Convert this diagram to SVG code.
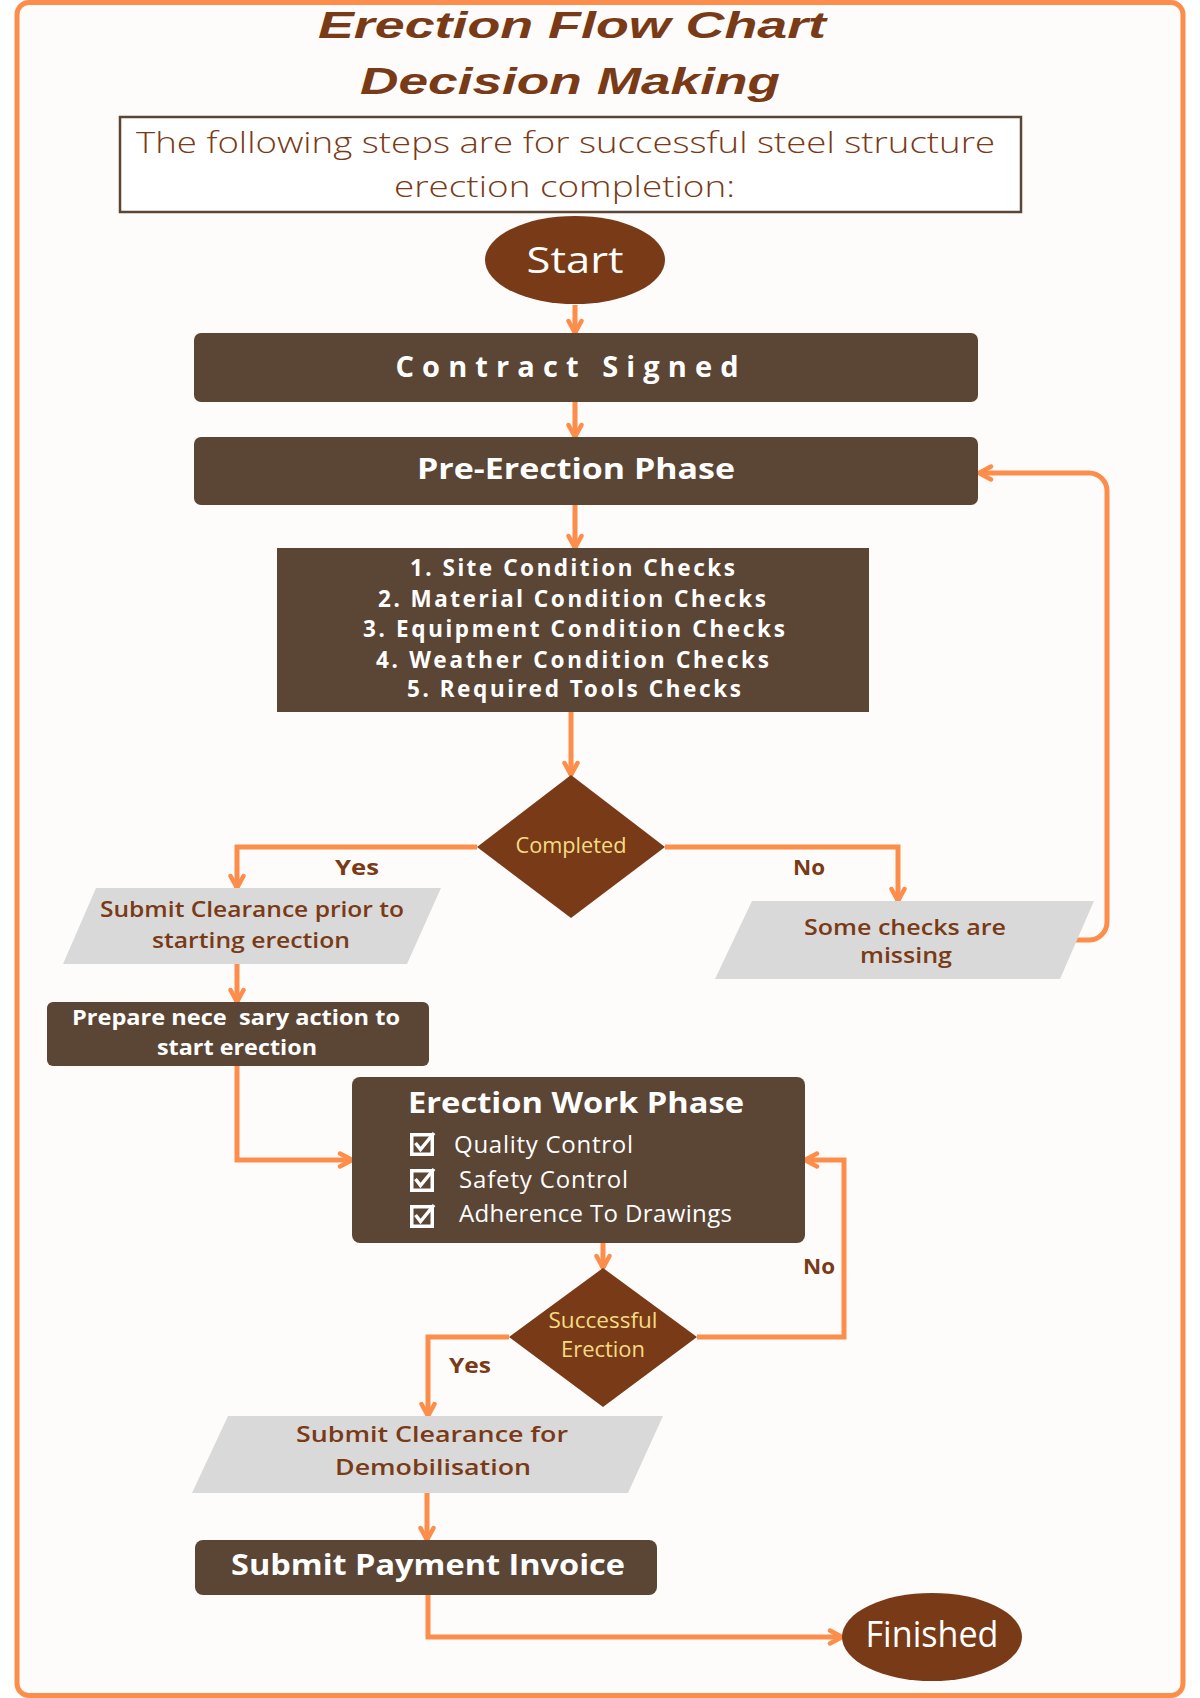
<svg xmlns="http://www.w3.org/2000/svg" width="1200" height="1698" viewBox="0 0 1200 1698">
  <defs>
    <style>
      .frame{fill:#fdfcfa;stroke:#fd8d4b;stroke-width:5}
      .box{fill:#5b4535}
      .term{fill:#793a17}
      .para{fill:#d9d9d9}
      .conn{fill:none;stroke:#fd8d4b;stroke-width:5;stroke-linejoin:miter}
      .title{font-family:"Liberation Sans",Arial,sans-serif;font-weight:700;font-style:italic;font-size:37px;fill:#793a17;text-anchor:middle}
      .intro{font-family:"Open Sans","Liberation Sans",sans-serif;font-weight:300;font-size:30px;fill:#793a17;text-anchor:middle}
      .termtxt{font-family:"Open Sans","Noto Sans","Liberation Sans",sans-serif;font-size:37px;fill:#ffffff;text-anchor:middle}
      .hdr{font-family:"Open Sans","Liberation Sans",sans-serif;font-weight:700;font-size:29px;fill:#ffffff;text-anchor:middle}
      .chk{font-family:"Noto Sans","Liberation Sans",sans-serif;font-weight:700;font-size:22.5px;fill:#ffffff;text-anchor:middle}
      .dec{font-family:"Open Sans","Liberation Sans",sans-serif;font-size:21px;fill:#f5dc84;text-anchor:middle}
      .lbl{font-family:"Open Sans","Liberation Sans",sans-serif;font-weight:700;font-size:22px;fill:#793a17}
      .ptxt{font-family:"Open Sans","Liberation Sans",sans-serif;font-weight:600;font-size:22px;fill:#793a17;text-anchor:middle}
      .wtxt{font-family:"Open Sans","Liberation Sans",sans-serif;font-weight:700;font-size:22px;fill:#ffffff;text-anchor:middle}
      .item{font-family:"Open Sans","Liberation Sans",sans-serif;font-size:24px;fill:#ffffff}
      .cb{fill:none;stroke:#ffffff;stroke-width:3.5}
    </style>
    <marker id="ah" viewBox="0 0 20 18" refX="17" refY="9" markerWidth="20" markerHeight="18" markerUnits="userSpaceOnUse" orient="auto">
      <path d="M5,2.5 L17,9 L5,15.5" fill="none" stroke="#fd8d4b" stroke-width="4.5" stroke-linecap="round" stroke-linejoin="round"/>
    </marker>
    <g id="checkbox">
      <rect class="cb" x="1.75" y="3.75" width="20.5" height="19.5"/>
      <path class="cb" d="M5.5,12 L10.5,18.5 L24,2"/>
    </g>
  </defs>

  <rect class="frame" x="17" y="2.5" width="1166" height="1693" rx="12"/>

  <g id="title">
    <text class="title" x="572" y="38" textLength="508" lengthAdjust="spacingAndGlyphs">Erection Flow Chart</text>
    <text class="title" x="570" y="94" textLength="420" lengthAdjust="spacingAndGlyphs">Decision Making</text>
  </g>

  <g id="intro">
    <rect x="120" y="117" width="901" height="95" fill="#ffffff" stroke="#5b4535" stroke-width="2.5"/>
    <text class="intro" x="565.5" y="153" textLength="859" lengthAdjust="spacingAndGlyphs">The following steps are for successful steel structure</text>
    <text class="intro" x="564.5" y="197" textLength="341" lengthAdjust="spacingAndGlyphs">erection completion:</text>
  </g>

  <g id="connectors">
    <path class="conn" d="M575,305 L575,333" marker-end="url(#ah)"/>
    <path class="conn" d="M575,402 L575,437" marker-end="url(#ah)"/>
    <path class="conn" d="M575,505 L575,548" marker-end="url(#ah)"/>
    <path class="conn" d="M571,712 L571,775" marker-end="url(#ah)"/>
    <path class="conn" d="M477,847 L237,847 L237,888" marker-end="url(#ah)"/>
    <path class="conn" d="M665,847 L898,847 L898,901" marker-end="url(#ah)"/>
    <path class="conn" d="M1067,940 L1089,940 A18,18 0 0 0 1107,922 L1107,491 A18,18 0 0 0 1089,473 L979,473" marker-end="url(#ah)"/>
    <path class="conn" d="M237,964 L237,1002" marker-end="url(#ah)"/>
    <path class="conn" d="M237,1066 L237,1160 L352,1160" marker-end="url(#ah)"/>
    <path class="conn" d="M603,1243 L603,1268" stroke-width="6" marker-end="url(#ah)"/>
    <path class="conn" d="M697,1337 L844,1337 L844,1160 L805,1160" marker-end="url(#ah)"/>
    <path class="conn" d="M509,1337 L428,1337 L428,1416" marker-end="url(#ah)"/>
    <path class="conn" d="M427,1493 L427,1540" marker-end="url(#ah)"/>
    <path class="conn" d="M428,1595 L428,1637 L842,1637" marker-end="url(#ah)"/>
  </g>

  <g id="labels">
    <text class="lbl" x="335" y="875" textLength="44" lengthAdjust="spacingAndGlyphs">Yes</text>
    <text class="lbl" x="793" y="875" textLength="32" lengthAdjust="spacingAndGlyphs">No</text>
    <text class="lbl" x="803" y="1274" textLength="32" lengthAdjust="spacingAndGlyphs">No</text>
    <text class="lbl" x="449" y="1373" textLength="42" lengthAdjust="spacingAndGlyphs">Yes</text>
  </g>

  <g id="start">
    <ellipse class="term" cx="575" cy="260" rx="90" ry="44"/>
    <text class="termtxt" x="575" y="273" textLength="97" lengthAdjust="spacingAndGlyphs">Start</text>
  </g>

  <g id="contract-signed">
    <rect class="box" x="194" y="333" width="784" height="69" rx="7"/>
    <text class="hdr" x="567" y="377" font-size="31" textLength="343" lengthAdjust="spacing">Contract Signed</text>
  </g>

  <g id="pre-erection">
    <rect class="box" x="194" y="437" width="784" height="68" rx="7"/>
    <text class="hdr" x="576" y="479" textLength="318" lengthAdjust="spacingAndGlyphs">Pre-Erection Phase</text>
  </g>

  <g id="checks">
    <rect class="box" x="277" y="548" width="592" height="164"/>
    <text class="chk" x="572.5" y="576" textLength="325" lengthAdjust="spacing">1. Site Condition Checks</text>
    <text class="chk" x="572" y="607" textLength="388" lengthAdjust="spacing">2. Material Condition Checks</text>
    <text class="chk" x="574" y="637" textLength="422" lengthAdjust="spacing">3. Equipment Condition Checks</text>
    <text class="chk" x="572.5" y="668" textLength="393" lengthAdjust="spacing">4. Weather Condition Checks</text>
    <text class="chk" x="574" y="697" textLength="334" lengthAdjust="spacing">5. Required Tools Checks</text>
  </g>

  <g id="completed">
    <polygon class="term" points="571,775 665,847 571,918 477,847"/>
    <text class="dec" x="571" y="853" textLength="111" lengthAdjust="spacingAndGlyphs">Completed</text>
  </g>

  <g id="submit-clearance-prior">
    <polygon class="para" points="96,888 441,888 407,964 63,964"/>
    <text class="ptxt" x="252" y="917" textLength="304" lengthAdjust="spacingAndGlyphs">Submit Clearance prior to</text>
    <text class="ptxt" x="251" y="948" textLength="198" lengthAdjust="spacingAndGlyphs">starting erection</text>
  </g>

  <g id="checks-missing">
    <polygon class="para" points="752,901 1094,901 1060,979 715,979"/>
    <text class="ptxt" x="905" y="935" textLength="202" lengthAdjust="spacingAndGlyphs">Some checks are</text>
    <text class="ptxt" x="906" y="963" textLength="92" lengthAdjust="spacingAndGlyphs">missing</text>
  </g>

  <g id="prepare-action">
    <rect class="box" x="47" y="1002" width="382" height="64" rx="6"/>
    <text class="wtxt" x="236" y="1025" textLength="328" lengthAdjust="spacingAndGlyphs">Prepare nece&#160; sary action to</text>
    <text class="wtxt" x="237" y="1055" textLength="160" lengthAdjust="spacingAndGlyphs">start erection</text>
  </g>

  <g id="erection-work-phase">
    <rect class="box" x="352" y="1077" width="453" height="166" rx="8"/>
    <text class="hdr" x="576" y="1113" textLength="336" lengthAdjust="spacingAndGlyphs">Erection Work Phase</text>
    <use href="#checkbox" x="410" y="1131"/>
    <use href="#checkbox" x="410" y="1167"/>
    <use href="#checkbox" x="410" y="1203"/>
    <text class="item" x="454" y="1153" textLength="179" lengthAdjust="spacing">Quality Control</text>
    <text class="item" x="459" y="1188" textLength="169" lengthAdjust="spacing">Safety Control</text>
    <text class="item" x="459" y="1222" textLength="273" lengthAdjust="spacing">Adherence To Drawings</text>
  </g>

  <g id="successful-erection">
    <polygon class="term" points="603,1268 697,1337 603,1407 509,1337"/>
    <text class="dec" x="603" y="1328" textLength="109" lengthAdjust="spacingAndGlyphs">Successful</text>
    <text class="dec" x="603" y="1357" textLength="84" lengthAdjust="spacingAndGlyphs">Erection</text>
  </g>

  <g id="submit-demobilisation">
    <polygon class="para" points="228,1416 663,1416 628,1493 192,1493"/>
    <text class="ptxt" x="432" y="1442" textLength="272" lengthAdjust="spacingAndGlyphs">Submit Clearance for</text>
    <text class="ptxt" x="433" y="1475" textLength="196" lengthAdjust="spacingAndGlyphs">Demobilisation</text>
  </g>

  <g id="payment-invoice">
    <rect class="box" x="195" y="1540" width="462" height="55" rx="8"/>
    <text class="hdr" x="428" y="1575" textLength="394" lengthAdjust="spacingAndGlyphs">Submit Payment Invoice</text>
  </g>

  <g id="finished">
    <ellipse class="term" cx="932" cy="1637" rx="90" ry="44"/>
    <text class="termtxt" x="932" y="1647" textLength="133" lengthAdjust="spacingAndGlyphs">Finished</text>
  </g>
</svg>
